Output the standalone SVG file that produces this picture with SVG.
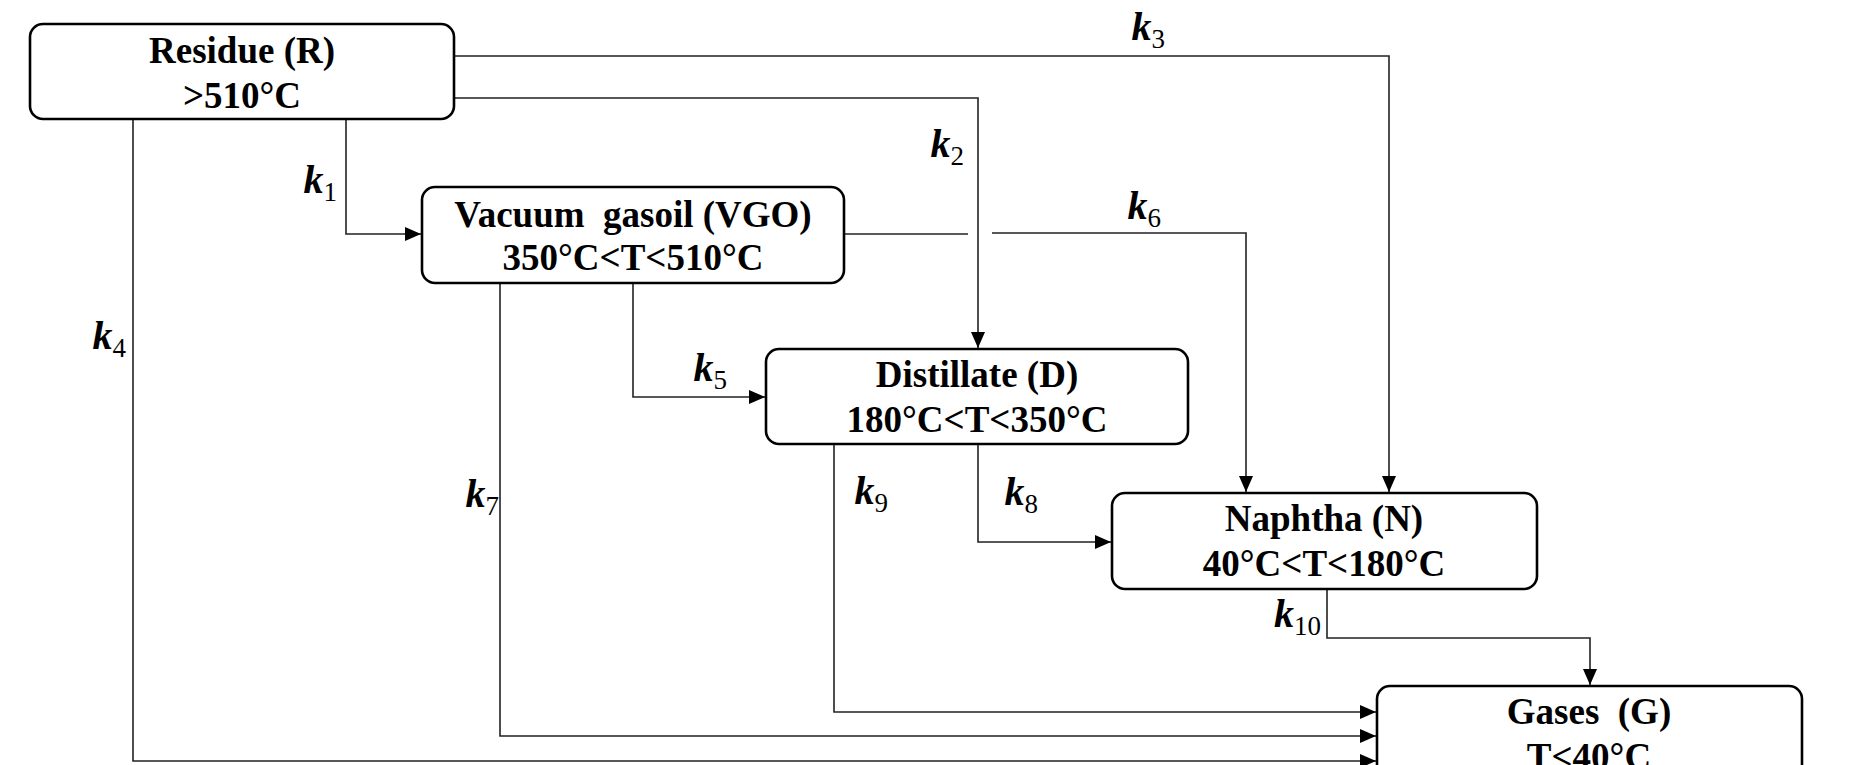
<svg xmlns="http://www.w3.org/2000/svg" width="1863" height="765" viewBox="0 0 1863 765">
<style>
.box{fill:#fff;stroke:#000;stroke-width:2.6}
.t{font-family:"Liberation Serif","Times New Roman",serif;font-weight:bold;font-size:37px;fill:#000;text-anchor:middle}
.c{fill:none;stroke:#222;stroke-width:1.6}
.k{font-family:"Liberation Serif","Times New Roman",serif;font-weight:bold;font-style:italic;font-size:40px;fill:#000;text-anchor:end}
.s{font-style:normal;font-weight:normal;font-size:27px}
</style>
<defs>
<marker id="ar" markerUnits="userSpaceOnUse" markerWidth="16" markerHeight="14" refX="16" refY="7" orient="auto">
<path d="M0,0 L16,7 L0,14 z" fill="#000"/>
</marker>
</defs>
<rect width="1863" height="765" fill="#fff"/>
<g id="connectors">
<path class="c" d="M346,119 V234 H421" marker-end="url(#ar)"/>
<path class="c" d="M454,98 H978 V348" marker-end="url(#ar)"/>
<path class="c" d="M454,56 H1389 V492" marker-end="url(#ar)"/>
<path class="c" d="M133,119 V761 H1376" marker-end="url(#ar)"/>
<path class="c" d="M633,283 V397 H765" marker-end="url(#ar)"/>
<path class="c" d="M844,234 H968"/>
<path class="c" d="M992,233 H1246 V492" marker-end="url(#ar)"/>
<path class="c" d="M500,283 V736 H1376" marker-end="url(#ar)"/>
<path class="c" d="M978,444 V542 H1111" marker-end="url(#ar)"/>
<path class="c" d="M834,444 V712 H1376" marker-end="url(#ar)"/>
<path class="c" d="M1327,589 V638 H1590 V685" marker-end="url(#ar)"/>
</g>
<g id="labels">
<text class="k" x="337" y="193">k<tspan class="s" dy="8">1</tspan></text>
<text class="k" x="964" y="157">k<tspan class="s" dy="8">2</tspan></text>
<text class="k" x="1165" y="40">k<tspan class="s" dy="8">3</tspan></text>
<text class="k" x="126" y="349">k<tspan class="s" dy="8">4</tspan></text>
<text class="k" x="727" y="381">k<tspan class="s" dy="8">5</tspan></text>
<text class="k" x="1161" y="219">k<tspan class="s" dy="8">6</tspan></text>
<text class="k" x="499" y="507">k<tspan class="s" dy="8">7</tspan></text>
<text class="k" x="1038" y="505">k<tspan class="s" dy="8">8</tspan></text>
<text class="k" x="888" y="504">k<tspan class="s" dy="8">9</tspan></text>
<text class="k" x="1321" y="627">k<tspan class="s" dy="8">10</tspan></text>
</g>
<g id="residue">
<rect class="box" x="30" y="24" width="424" height="95" rx="13"/>
<text class="t" x="242" y="63">Residue (R)</text>
<text class="t" x="242" y="108">&gt;510°C</text>
</g>
<g id="vgo">
<rect class="box" x="422" y="187" width="422" height="96" rx="13"/>
<text class="t" x="633" y="227" xml:space="preserve">Vacuum  gasoil (VGO)</text>
<text class="t" x="633" y="270">350°C&lt;T&lt;510°C</text>
</g>
<g id="distillate">
<rect class="box" x="766" y="349" width="422" height="95" rx="13"/>
<text class="t" x="977" y="387">Distillate (D)</text>
<text class="t" x="977" y="432">180°C&lt;T&lt;350°C</text>
</g>
<g id="naphtha">
<rect class="box" x="1112" y="493" width="425" height="96" rx="13"/>
<text class="t" x="1324" y="531">Naphtha (N)</text>
<text class="t" x="1324" y="576">40°C&lt;T&lt;180°C</text>
</g>
<g id="gases">
<rect class="box" x="1377" y="686" width="425" height="96" rx="13"/>
<text class="t" x="1589" y="724" xml:space="preserve">Gases  (G)</text>
<text class="t" x="1589" y="769">T&lt;40°C</text>
</g>
</svg>
